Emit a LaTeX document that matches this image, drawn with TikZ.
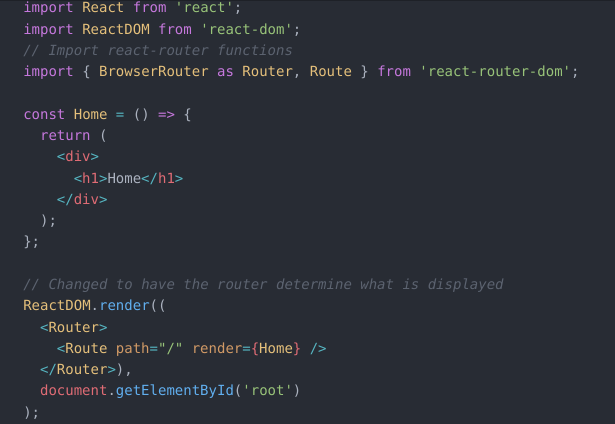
\documentclass[tikz,border=0pt]{standalone}
\usepackage{fontspec}
\newfontfamily\codef{DejaVu Sans Mono}
\definecolor{bg}{HTML}{282C34}
\definecolor{topl}{HTML}{1E2127}
\definecolor{ckw}{HTML}{C678DD}
\definecolor{cty}{HTML}{E5C07B}
\definecolor{cst}{HTML}{98C379}
\definecolor{ccm}{HTML}{5C6370}
\definecolor{cop}{HTML}{56B6C2}
\definecolor{ctg}{HTML}{E06C75}
\definecolor{cat}{HTML}{D19A66}
\definecolor{cfn}{HTML}{61AFEF}
\definecolor{ctx}{HTML}{ABB2BF}
\newcommand\xK[1]{\textcolor{ckw}{#1}}
\newcommand\xY[1]{\textcolor{cty}{#1}}
\newcommand\xG[1]{\textcolor{cst}{#1}}
\newcommand\xC[1]{\textcolor{ccm}{\itshape #1}}
\newcommand\xO[1]{\textcolor{cop}{#1}}
\newcommand\xR[1]{\textcolor{ctg}{#1}}
\newcommand\xA[1]{\textcolor{cat}{#1}}
\newcommand\xF[1]{\textcolor{cfn}{#1}}
\begin{document}
\begin{tikzpicture}[x=0.75pt,y=-0.75pt,
  ln/.style={anchor=base west,inner sep=0pt,font=\codef\fontsize{10.5pt}{16pt}\selectfont,text=ctx}]
\fill[bg] (0,0) rectangle (615,424);
\fill[topl] (0,0) rectangle (615,1.5);
\useasboundingbox (0,0) rectangle (615,424);
\def\lh{21.27}
\def\cw{8.42}
\node[ln] (l1) at (23,13) {\xK{import} \xY{React} \xK{from} \xG{'react'};};
\node[ln] (l2) at (23,13+\lh) {\xK{import} \xY{ReactDOM} \xK{from} \xG{'react-dom'};};
\node[ln] (l3) at (23,13+2*\lh) {\xC{// Import react-router functions}};
\node[ln] (l4) at (23,13+3*\lh) {\xK{import} \{ \xY{BrowserRouter} \xK{as} \xY{Router}, \xY{Route} \} \xK{from} \xG{'react-router-dom'};};
\node[ln] (l6) at (23,13+5*\lh) {\xK{const} \xY{Home} \xO{=} () \xK{=>} \{};
\node[ln] (l7) at (23+2*\cw,13+6*\lh) {\xK{return} (};
\node[ln] (l8) at (23+4*\cw,13+7*\lh) {\xO{<}\xR{div}\xO{>}};
\node[ln] (l9) at (23+6*\cw,13+8*\lh) {\xO{<}\xR{h1}\xO{>}Home\xO{</}\xR{h1}\xO{>}};
\node[ln] (l10) at (23+4*\cw,13+9*\lh) {\xO{</}\xR{div}\xO{>}};
\node[ln] (l11) at (23+2*\cw,13+10*\lh) {);};
\node[ln] (l12) at (23,13+11*\lh) {\};};
\node[ln] (l14) at (23,13+13*\lh) {\xC{// Changed to have the router determine what is displayed}};
\node[ln] (l15) at (23,13+14*\lh) {\xY{ReactDOM}.\xF{render}((};
\node[ln] (l16) at (23+2*\cw,13+15*\lh) {\xO{<}\xY{Router}\xO{>}};
\node[ln] (l17) at (23+4*\cw,13+16*\lh) {\xO{<}\xY{Route} \xA{path}\xO{=}\xG{"/"} \xA{render}\xO{=}\xR{\{}\xY{Home}\xR{\}} \xO{/>}};
\node[ln] (l18) at (23+2*\cw,13+17*\lh) {\xO{</}\xY{Router}\xO{>}),};
\node[ln] (l19) at (23+2*\cw,13+18*\lh) {\xR{document}.\xF{getElementById}(\xG{'root'})};
\node[ln] (l20) at (23,13+19*\lh) {);};
\end{tikzpicture}
\end{document}
